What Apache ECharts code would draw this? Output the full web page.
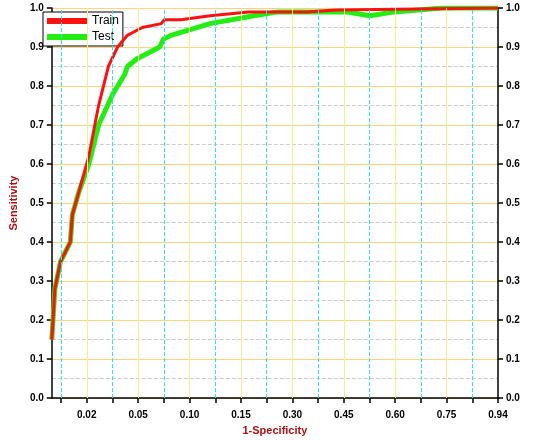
<!DOCTYPE html><html><head><meta charset="utf-8"><script src="https://cdn.jsdelivr.net/npm/echarts@6/dist/echarts.min.js"></script></head><body style="margin:0"><div id="c" style="width:550px;height:441px"></div><script>
const xTickLabels=['0.02','0.05','0.10','0.15','0.30','0.45','0.60','0.75','0.94'];
// x positions are in tick-index units (axis is evenly spaced between labelled ticks)
const trainX=[-0.68,-0.62,-0.51,-0.32,-0.28,-0.15,0.04,0.23,0.42,0.60,0.79,1.08,1.45,1.51,1.83,2.40,3.15,4.28,4.85,8];
const trainY=[0.15,0.28,0.35,0.40,0.47,0.53,0.62,0.75,0.85,0.90,0.93,0.95,0.96,0.97,0.97,0.98,0.99,0.99,0.995,1.0];
const testX=[-0.68,-0.62,-0.51,-0.32,-0.28,-0.15,0.04,0.23,0.51,0.74,0.79,0.98,1.42,1.49,1.64,2.40,3.25,3.72,5.04,5.51,5.98,6.92,8];
const testY=[0.15,0.28,0.35,0.40,0.47,0.53,0.60,0.70,0.78,0.83,0.85,0.87,0.90,0.92,0.93,0.96,0.98,0.99,0.99,0.98,0.99,1.0,1.0];
const major=[0,1,2,3,4,5,6,7],minor=[-0.5,0.5,1.5,2.5,3.5,4.5,5.5,6.5,7.5];
const z=(a,b)=>a.map((v,i)=>[v,b[i]]);
const ch=echarts.init(document.getElementById('c'));
const lab={fontFamily:'Liberation Sans',fontWeight:'bold',fontSize:10,color:'#000'};
const yAx=(pos)=>({type:'value',position:pos,min:0,max:1,interval:0.1,
 axisLine:{show:true,onZero:false,lineStyle:{color:'#000',width:1.5}},axisTick:{show:true,inside:false,lineStyle:{color:'#000',width:1.5}},
 axisLabel:Object.assign({formatter:v=>v.toFixed(1)},lab),
 splitLine:{show:pos==='left',lineStyle:{color:'#ffd37a',width:1}},
 minorTick:{show:false,splitNumber:2},minorSplitLine:{show:pos==='left',lineStyle:{color:'#ccc',type:'dashed'}},
 name:pos==='left'?'Sensitivity':'',nameLocation:'middle',nameGap:24,nameTextStyle:{color:'#b01010',fontWeight:'bold',fontFamily:'Liberation Sans',fontSize:11}});
ch.setOption({animation:false,
grid:{left:37,right:52,top:8,bottom:40},
legend:{left:43,top:12,orient:'vertical',itemWidth:40,itemHeight:6,itemGap:4,borderColor:'#000',borderWidth:1,backgroundColor:'#fff',padding:[3,4],
 textStyle:{fontFamily:'Liberation Sans',fontSize:12,color:'#000'},icon:'rect',data:['Train','Test']},
xAxis:{type:'value',min:-0.68,max:8,axisLine:{onZero:false,lineStyle:{color:'#000',width:1.5}},
 axisTick:{customValues:major.concat(minor,[8]),lineStyle:{color:'#000',width:1.5}},
 axisLabel:Object.assign({customValues:[0,1,2,3,4,5,6,7,8],formatter:v=>xTickLabels[Math.round(v)],margin:12},lab),
 splitLine:{show:false},
 name:'1-Specificity',nameLocation:'middle',nameGap:26,nameTextStyle:{color:'#b01010',fontWeight:'bold',fontFamily:'Liberation Sans',fontSize:11}},
yAxis:[yAx('left'),yAx('right')],
series:[
{name:'grid',type:'line',data:[],silent:true,markLine:{symbol:'none',silent:true,label:{show:false},
 data:major.map(v=>({xAxis:v,lineStyle:{color:'#f4f08a',type:'solid',width:1}})).concat(minor.map(v=>({xAxis:v,lineStyle:{color:'#33e0f0',type:'dashed',width:1}})))}},
{name:'Test',type:'line',data:z(testX,testY),showSymbol:false,lineStyle:{color:'#22ee11',width:5},itemStyle:{color:'#22ee11'},z:3},
{name:'Train',type:'line',data:z(trainX,trainY),showSymbol:false,lineStyle:{color:'#ff1010',width:3},itemStyle:{color:'#ff1010'},z:4}
]});
</script></body></html>
